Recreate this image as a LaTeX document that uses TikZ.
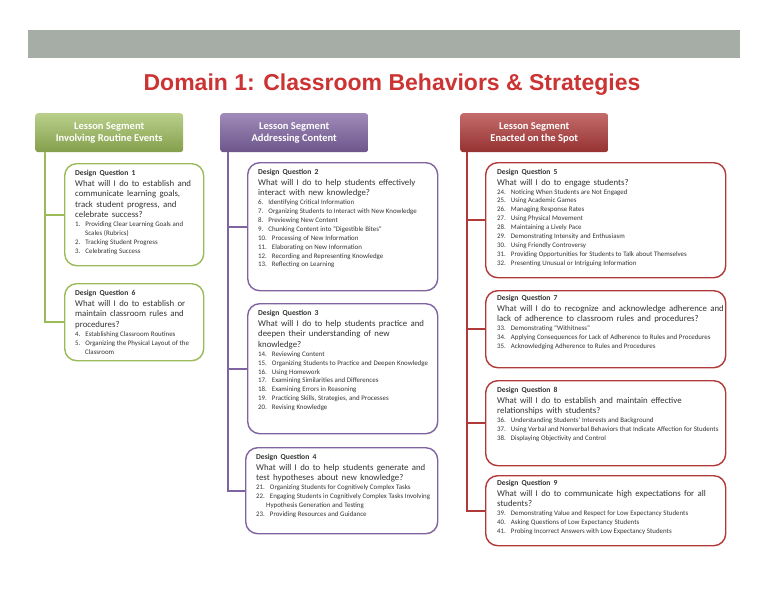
\documentclass[tikz,border=0pt]{standalone}
\usepackage{fontspec}
\setmainfont{Carlito}
\newfontfamily\arialf{Liberation Sans}
\newcommand\itm[1]{\par\raggedright\hangindent=10pt\hangafter=1 #1}
\newcommand\dqt[2]{\raggedright{\fontsize{7.6}{9.4}\selectfont\bfseries #1\par}{\fontsize{8.8}{10.6}\selectfont #2\par}\fontsize{6.9}{8.9}\selectfont\spaceskip=1.7pt plus 0.5pt\relax}
\definecolor{gc}{HTML}{9BBB59}
\definecolor{pc}{HTML}{8064A2}
\definecolor{rc}{HTML}{B03A3A}
\definecolor{txt}{HTML}{333333}
\definecolor{barc}{HTML}{A6ACA6}
\begin{document}
\begin{tikzpicture}[x=1pt,y=-1pt,
 hdr/.style={anchor=north west,rounded corners=3pt,minimum width=148pt,minimum height=39pt,text=white,font=\fontsize{10.5}{12}\selectfont\bfseries,align=center},
 bx/.style={anchor=north west,draw,line width=1.4pt,rounded corners=12pt,fill=white},
 tx/.style={anchor=north west,align=left,text=txt,inner sep=0pt},
 ln/.style={line width=2pt}]
\useasboundingbox (0,0) rectangle (768,594);
\fill[white] (0,0) rectangle (768,594);
\fill[barc] (28,30) rectangle (740,58);
\node[text={rgb,255:red,204;green,51;blue,51},font=\arialf\bfseries\fontsize{23}{26}\selectfont] (title) at (392,85) {Domain 1: Classroom Behaviors \& Strategies};
% headers
\node[hdr,top color=gc!70,bottom color=gc!85!black] (gh) at (35,113) {Lesson Segment\\Involving Routine Events};
\node[hdr,top color=pc!75,bottom color=pc!85!black] (ph) at (220,113) {Lesson Segment\\Addressing Content};
\node[hdr,top color=rc!75,bottom color=rc!85!black] (rh) at (460,113) {Lesson Segment\\Enacted on the Spot};
% green boxes
\node[bx,draw=gc,minimum width=139pt,minimum height=102pt] (dq1) at (64,163) {};
\node[tx,text width=124pt] at ([xshift=11pt,yshift=-7pt]dq1.north west) {\dqt{Design Question 1}{What will I do to establish and communicate learning goals, track student progress, and celebrate success?}\itm{1. Providing Clear Learning Goals and Scales (Rubrics)}\itm{2. Tracking Student Progress}\itm{3. Celebrating Success}\par};
\node[bx,draw=gc,minimum width=139pt,minimum height=77pt] (dq6) at (64,283) {};
\node[tx,text width=124pt] at ([xshift=11pt,yshift=-7pt]dq6.north west) {\dqt{Design Question 6}{What will I do to establish or maintain classroom rules and procedures?}\itm{4. Establishing Classroom Routines}\itm{5. Organizing the Physical Layout of the Classroom}\par};
% purple boxes
\node[bx,draw=pc,minimum width=190pt,minimum height=128pt] (dq2) at (247,162) {};
\node[tx,text width=172pt] at ([xshift=11pt,yshift=-7pt]dq2.north west) {\dqt{Design Question 2}{What will I do to help students effectively interact with new knowledge?}\itm{6. Identifying Critical Information}\itm{7. Organizing Students to Interact with New Knowledge}\itm{8. Previewing New Content}\itm{9. Chunking Content into ``Digestible Bites''}\itm{10. Processing of New Information}\itm{11. Elaborating on New Information}\itm{12. Recording and Representing Knowledge}\itm{13. Reflecting on Learning}\par};
\node[bx,draw=pc,minimum width=190pt,minimum height=130pt] (dq3) at (247,303) {};
\node[tx,text width=172pt] at ([xshift=11pt,yshift=-7pt]dq3.north west) {\dqt{Design Question 3}{What will I do to help students practice and deepen their understanding of new knowledge?}\itm{14. Reviewing Content}\itm{15. Organizing Students to Practice and Deepen Knowledge}\itm{16. Using Homework}\itm{17. Examining Similarities and Differences}\itm{18. Examining Errors in Reasoning}\itm{19. Practicing Skills, Strategies, and Processes}\itm{20. Revising Knowledge}\par};
\node[bx,draw=pc,minimum width=192pt,minimum height=86pt] (dq4) at (245,447) {};
\node[tx,text width=178pt] at ([xshift=11pt,yshift=-7pt]dq4.north west) {\dqt{Design Question 4}{What will I do to help students generate and test hypotheses about new knowledge?}\itm{21. Organizing Students for Cognitively Complex Tasks}\itm{22. Engaging Students in Cognitively Complex Tasks Involving Hypothesis Generation and Testing}\itm{23. Providing Resources and Guidance}\par};
% red boxes
\node[bx,draw=rc,minimum width=240pt,minimum height=115pt] (dq5) at (485,162) {};
\node[tx,text width=225pt] at ([xshift=12pt,yshift=-7pt]dq5.north west) {\dqt{Design Question 5}{What will I do to engage students?}\itm{24. Noticing When Students are Not Engaged}\itm{25. Using Academic Games}\itm{26. Managing Response Rates}\itm{27. Using Physical Movement}\itm{28. Maintaining a Lively Pace}\itm{29. Demonstrating Intensity and Enthusiasm}\itm{30. Using Friendly Controversy}\itm{31. Providing Opportunities for Students to Talk about Themselves}\itm{32. Presenting Unusual or Intriguing Information}\par};
\node[bx,draw=rc,minimum width=240pt,minimum height=77pt] (dq7) at (485,290) {};
\node[tx,text width=228pt] at ([xshift=12pt,yshift=-5pt]dq7.north west) {\dqt{Design Question 7}{What will I do to recognize and acknowledge adherence and lack of adherence to classroom rules and procedures?}\itm{33. Demonstrating ``Withitness''}\itm{34. Applying Consequences for Lack of Adherence to Rules and Procedures}\itm{35. Acknowledging Adherence to Rules and Procedures}\par};
\node[bx,draw=rc,minimum width=240pt,minimum height=85pt] (dq8) at (485,380) {};
\node[tx,text width=225pt] at ([xshift=12pt,yshift=-7pt]dq8.north west) {\dqt{Design Question 8}{What will I do to establish and maintain effective\\relationships with students?}\itm{36. Understanding Students' Interests and Background}\itm{37. Using Verbal and Nonverbal Behaviors that Indicate Affection for Students}\itm{38. Displaying Objectivity and Control}\par};
\node[bx,draw=rc,minimum width=240pt,minimum height=70pt] (dq9) at (485,475) {};
\node[tx,text width=228pt] at ([xshift=12pt,yshift=-5pt]dq9.north west) {\dqt{Design Question 9}{What will I do to communicate high expectations for all\\students?}\itm{39. Demonstrating Value and Respect for Low Expectancy Students}\itm{40. Asking Questions of Low Expectancy Students}\itm{41. Probing Incorrect Answers with Low Expectancy Students}\par};
% connectors
\coordinate (gt) at (45,152);
\coordinate (pt) at (228,152);
\coordinate (rt) at (467,152);
\draw[ln,gc] (gt) |- (dq1.west); \draw[ln,gc] (gt) |- (dq6.west);
\draw[ln,pc] (pt) |- (dq2.west); \draw[ln,pc] (pt) |- (dq3.west); \draw[ln,pc] (pt) |- (dq4.west);
\draw[ln,rc] (rt) |- (dq5.west); \draw[ln,rc] (rt) |- (dq7.west); \draw[ln,rc] (rt) |- (dq8.west); \draw[ln,rc] (rt) |- (dq9.west);
\end{tikzpicture}
\end{document}
